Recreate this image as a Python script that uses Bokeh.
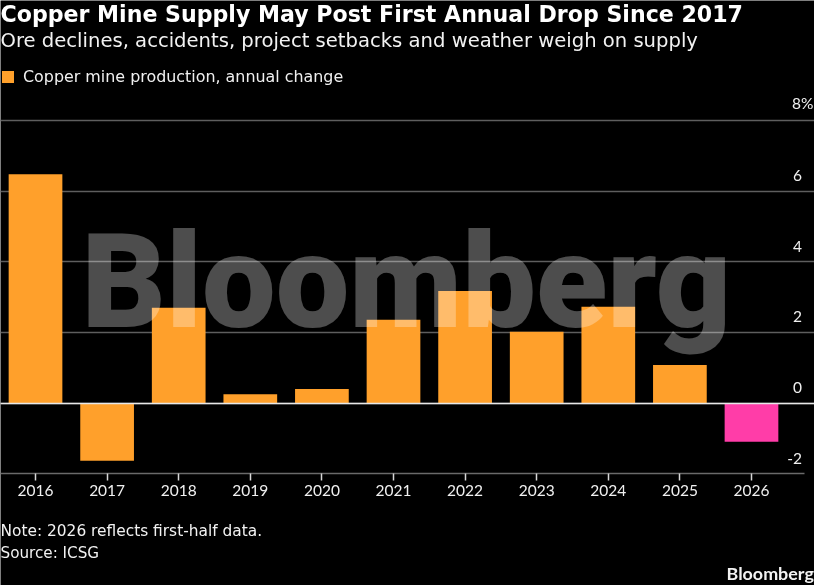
from bokeh.core.properties import value
from bokeh.embed import file_html
from bokeh.resources import INLINE
from bokeh.plotting import figure
from bokeh.models import (ColumnDataSource, Range1d, FixedTicker, Grid, Label, LabelSet,
                          Legend, LegendItem, LinearAxis, NumeralTickFormatter)

years = [2016, 2017, 2018, 2019, 2020, 2021, 2022, 2023, 2024, 2025, 2026]
change = [6.49, -1.64, 2.70, 0.25, 0.40, 2.36, 3.18, 2.02, 2.73, 1.08, -1.10]
bar_colors = ["#FFA02B"] * 10 + ["#FF3DA8"]
y_ticks = [8, 6, 4, 2, 0, -2]
y_labels = ["8%", "6", "4", "2", "0", "-2"]

TITLE = "Copper Mine Supply May Post First Annual Drop Since 2017"
SUBTITLE = "Ore declines, accidents, project setbacks and weather weigh on supply"
LEGEND = "Copper mine production, annual change"
NOTE = "Note: 2026 reflects first-half data."
SOURCE = "Source: ICSG"
BRAND = "Bloomberg"

W, H = 814, 585
X0, X1 = 2015.511, 2026.88
XR = 2026.734

p = figure(width=W, height=H, output_backend="svg", toolbar_location=None,
           x_range=Range1d(X0, X1), y_range=Range1d(-5.177, 11.418),
           x_axis_location=None, y_axis_location=None,
           min_border_left=0, min_border_right=0, min_border_top=0, min_border_bottom=0,
           background_fill_color="black", border_fill_color="black", outline_line_color=None)
p.styles = {"position": "fixed", "left": "0", "top": "0"}
p.grid.visible = False

ax = LinearAxis(fixed_location=y_ticks[-1], bounds=(X0, XR))
ax.ticker = FixedTicker(ticks=years)
ax.formatter = NumeralTickFormatter(format="0")
ax.axis_line_color = "#6a6a6a"
ax.axis_line_width = 1.5
ax.major_tick_line_color = "#d8d8d8"
ax.major_tick_line_width = 1.5
ax.major_tick_in = 0
ax.major_tick_out = 7
ax.minor_tick_line_color = None
ax.major_label_text_color = "#f0f0f0"
ax.major_label_text_font = "Lato"
ax.major_label_text_font_size = "15.5px"
ax.major_label_standoff = 4
p.add_layout(ax, "below")

p.add_layout(Grid(dimension=1, ticker=FixedTicker(ticks=y_ticks[:-1]), bounds=(X0, XR),
                  grid_line_color="#5e5e5e", grid_line_width=1.5))

source = ColumnDataSource(dict(x=years, top=change, color=bar_colors))
bars = p.vbar(x="x", top="top", bottom=0, width=0.75, fill_color="color", line_color=None, source=source)

p.add_layout(Grid(dimension=1, ticker=FixedTicker(ticks=[0]), bounds=(X0, XR), level="annotation",
                  grid_line_color="#e8e8e8", grid_line_width=1.5))

legend = Legend(items=[LegendItem(label=LEGEND, renderers=[bars], index=0)],
                location=(0, 499), orientation="vertical",
                glyph_width=15, glyph_height=15, label_standoff=8, padding=0, margin=0,
                background_fill_alpha=0, border_line_color=None,
                label_text_color="#f0f0f0", label_text_font="DejaVu Sans", label_text_font_size="15.9px")
p.add_layout(legend)


def text(s, x, y_base, size, font="DejaVu Sans", style="normal", color="#f2f2f2", alpha=1.0):
    p.add_layout(Label(x=x, y=H - y_base + 0.39 * size, x_units="screen", y_units="screen", text=s,
                       text_font=font, text_font_size=f"{size}px", text_font_style=style, text_color=color,
                       text_align="left", text_baseline="alphabetic", text_alpha=alpha, level="overlay"))


text(TITLE, 0, 22, 22.1, style="bold", color="#ffffff")
text(SUBTITLE, 0, 48, 19.6)
text(NOTE, 0, 537, 15.4)
text(SOURCE, 0, 558, 15.2)
text(BRAND, 726, 579, 17.9, font="Lato", style="bold")
text(BRAND, 81, 333, 131, font="Roboto Black, Lato Black, Liberation Sans", style="bold", color="#ffffff", alpha=0.3)

labels_src = ColumnDataSource(dict(y=y_ticks[1:], text=y_labels[1:]))
p.add_layout(LabelSet(x=XR, y="y", text="text", source=labels_src, x_offset=-2, y_offset=10,
                      text_align="right", text_baseline="bottom", text_color="#f0f0f0",
                      text_font=value("Lato"), text_font_size="15.5px"))
p.add_layout(Label(x=XR, y=y_ticks[0], text=y_labels[0], x_offset=-12, y_offset=9,
                   text_align="left", text_baseline="bottom", text_color="#f0f0f0",
                   text_font="Lato", text_font_size="15.5px"))

open("out.html", "w").write(file_html(p, INLINE))
